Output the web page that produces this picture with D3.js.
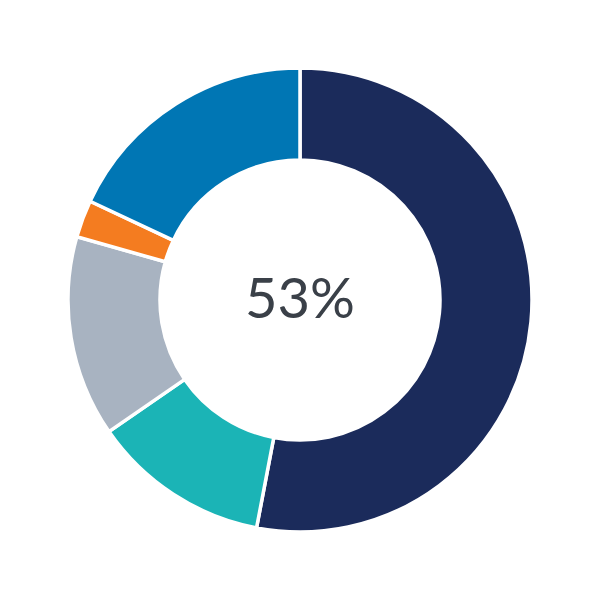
<!DOCTYPE html>
<html><head><meta charset="utf-8">
<script src="https://cdn.jsdelivr.net/npm/d3@7"></script>
<style>html,body{margin:0;padding:0;background:#fff;}</style>
</head><body>
<svg id="chart" width="600" height="600"></svg>
<script>
const categories = ["A", "B", "C", "D", "E"];
const values = [53, 12.4, 14, 2.6, 18];
const colors = ["#1b2b5b", "#1bb4b6", "#a8b3c1", "#f47c20", "#0076b4"];
const centerLabel = "53%";

const svg = d3.select("#chart");
const g = svg.append("g").attr("transform", "translate(300,300)");
const pie = d3.pie().sort(null).value(d => d.v);
const arc = d3.arc().innerRadius(140).outerRadius(232);
const data = categories.map((c, i) => ({c, v: values[i], col: colors[i]}));
g.selectAll("path").data(pie(data)).join("path")
  .attr("d", arc)
  .attr("fill", d => d.data.col)
  .attr("stroke", "#fff")
  .attr("stroke-width", 3.5);
g.append("text").text(centerLabel)
  .attr("text-anchor", "middle")
  .attr("dy", "0.35em")
  .attr("y", -2)
  .attr("font-family", "Lato, sans-serif")
  .attr("font-weight", 400)
  .attr("font-size", 56)
  .attr("fill", "#3a4048");
</script>
</body></html>
